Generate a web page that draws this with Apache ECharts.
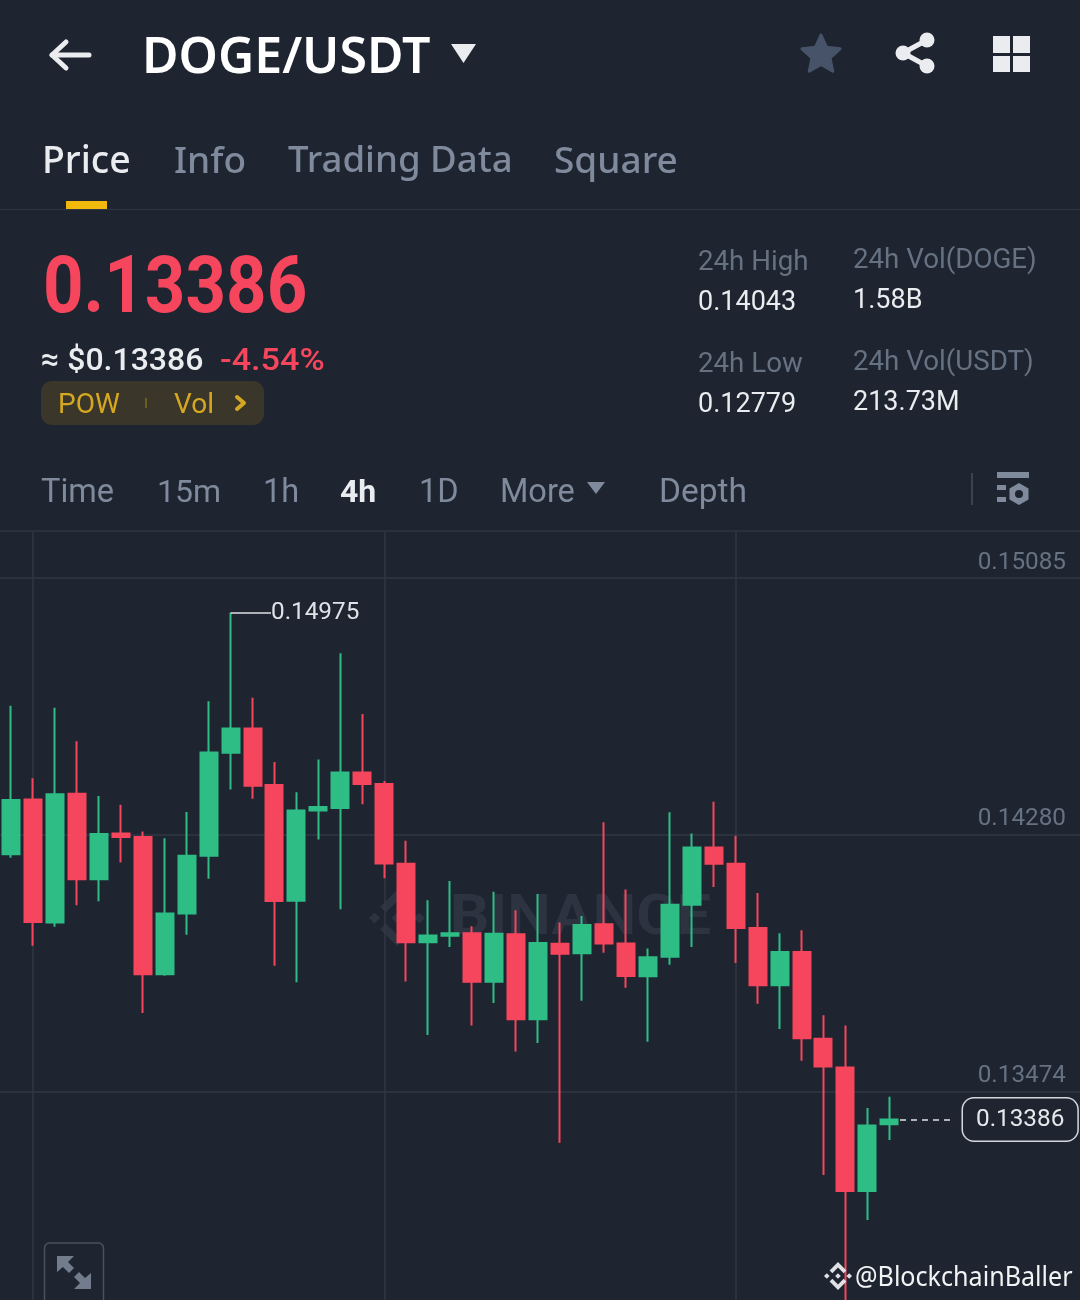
<!DOCTYPE html>
<html>
<head>
<meta charset="utf-8">
<title>DOGE/USDT</title>
<style>
html, body { margin: 0; padding: 0; background: #1e2530; }
#chart { width: 1080px; height: 1300px; }
</style>
<script src="https://cdn.jsdelivr.net/npm/echarts@6/dist/echarts.min.js"></script>
</head>
<body>
<div id="chart"></div>
<script>
// values
var opens  = [0.14218,0.14389,0.14004,0.14407,0.14139,0.14283,0.14272,0.13841,0.14032,0.14213,0.14536,0.14612,0.14435,0.14072,0.14355,0.14363,0.14474,0.14438,0.14188,0.13942,0.13962,0.13970,0.13818,0.13967,0.13700,0.13937,0.13907,0.13998,0.13938,0.13835,0.13896,0.14059,0.14239,0.14188,0.13986,0.13807,0.13911,0.13639,0.13549,0.13162,0.13371];
var closes = [0.14388,0.14005,0.14406,0.14139,0.14281,0.14272,0.13841,0.14032,0.14213,0.14537,0.14612,0.14432,0.14071,0.14355,0.14366,0.14474,0.14438,0.14189,0.13942,0.13963,0.13970,0.13818,0.13968,0.13700,0.13939,0.13906,0.13996,0.13938,0.13836,0.13895,0.14059,0.14239,0.14188,0.13986,0.13807,0.13911,0.13641,0.13552,0.13162,0.13367,0.13386];
var lows   = [0.14207,0.13931,0.13990,0.14058,0.14070,0.14192,0.13720,0.13837,0.13965,0.14141,0.14421,0.14392,0.13868,0.13816,0.14264,0.14045,0.14374,0.14142,0.13819,0.13651,0.13927,0.13681,0.13751,0.13599,0.13626,0.13313,0.13758,0.13909,0.13799,0.13630,0.13871,0.13927,0.14115,0.13877,0.13749,0.13670,0.13570,0.13212,0.12779,0.13071,0.13322];
var highs  = [0.14683,0.14456,0.14677,0.14572,0.14400,0.14373,0.14289,0.14268,0.14350,0.14697,0.14975,0.14708,0.14507,0.14412,0.14515,0.14848,0.14657,0.14447,0.14260,0.14073,0.14134,0.13992,0.14100,0.14042,0.14093,0.14004,0.14024,0.14318,0.14107,0.13922,0.14349,0.14283,0.14382,0.14276,0.14096,0.13970,0.13979,0.13713,0.13681,0.13422,0.13457];
var priceTicks = [0.15085, 0.14280, 0.13474];
var gridBars = [1, 17, 33];
var highBar = 10, highPrice = 0.14975;
var lastPrice = 0.13386;
var emptyBarsRight = 8;

var BG = '#1e2530', WHITE = '#eaecef', GREY = '#7f8a9c', DIM = '#667182', RED = '#f6465d', GREEN = '#2ebd85', LINE = '#303743';
var SANS = '"Noto Sans", sans-serif', NUM = 'Roboto, sans-serif';

var bars = [];
for (var i = 0; i < opens.length + emptyBarsRight; i++) bars.push(String(i + 1));
var candles = opens.map(function (o, i) { return [o, closes[i], lows[i], highs[i]]; });

// horizontal lines run the full width, past the plot's right edge
var gridLines = priceTicks.map(function (v) { return [{ x: 0, yAxis: v }, { x: 1080, yAxis: v }]; })
    .concat(gridBars.map(function (b) { return { xAxis: b }; }));

function txt(x, y, s, size, color, weight, font, sx) {
    return {
        type: 'text', x: x, y: y, scaleX: sx || 1, z: 100,
        style: { x: 0, y: 0, text: s, fontSize: size, fill: color, fontWeight: weight || 400, fontFamily: font || SANS, verticalAlign: 'middle', align: 'left' }
    };
}
function poly(pts, fill, z) {
    return { type: 'polygon', z: z == null ? 100 : z, shape: { points: pts }, style: { fill: fill } };
}
function rect(x, y, w, h, fill, r) {
    return { type: 'rect', z: 100, shape: { x: x, y: y, width: w, height: h, r: r || 0 }, style: { fill: fill } };
}
function pline(pts, color, width) {
    return { type: 'polyline', z: 100, shape: { points: pts }, style: { stroke: color, lineWidth: width, fill: null, lineCap: 'round', lineJoin: 'round' } };
}
// the exchange logo, s = half size
function logo(cx, cy, s, fill, z) {
    var parts = [
        [[0,-.2],[.2,0],[0,.2],[-.2,0]],
        [[-.8,-.2],[-.6,0],[-.8,.2],[-1,0]],
        [[.8,-.2],[1,0],[.8,.2],[.6,0]],
        [[0,-1],[.6,-.4],[.4,-.2],[0,-.6],[-.4,-.2],[-.6,-.4]],
        [[0,1],[.6,.4],[.4,.2],[0,.6],[-.4,.2],[-.6,.4]]
    ];
    return parts.map(function (p) {
        return poly(p.map(function (q) { return [cx + q[0] * s, cy + q[1] * s]; }), fill, z);
    });
}
function starPts(cx, cy, r, r0) {
    var pts = [];
    for (var i = 0; i < 10; i++) {
        var a = -Math.PI / 2 + i * Math.PI / 5, d = i % 2 ? r0 : r;
        pts.push([cx + d * Math.cos(a), cy + d * Math.sin(a)]);
    }
    return pts;
}
function hexPts(cx, cy, r) {
    var pts = [];
    for (var i = 0; i < 6; i++) {
        var a = -Math.PI / 2 + i * Math.PI / 3;
        pts.push([cx + r * Math.cos(a), cy + r * Math.sin(a)]);
    }
    return pts;
}

var graphics = [
    // top bar
    pline([[52, 55], [89, 55]], WHITE, 5),
    pline([[66, 42], [52, 55], [66, 68]], WHITE, 5),
    txt(142, 59, 'DOGE/USDT', 50, '#ffffff', 600),
    poly([[451, 44], [476, 44], [463.5, 63]], WHITE),
    { type: 'polygon', z: 100, shape: { points: starPts(821, 55, 20, 9.5) }, style: { fill: '#475368', stroke: '#475368', lineWidth: 3, lineJoin: 'round' } },
    pline([[903, 53], [927, 40]], WHITE, 5),
    pline([[903, 53], [927, 66]], WHITE, 5),
    { type: 'circle', z: 100, shape: { cx: 927, cy: 40, r: 7.5 }, style: { fill: WHITE } },
    { type: 'circle', z: 100, shape: { cx: 927, cy: 66, r: 7.5 }, style: { fill: WHITE } },
    { type: 'circle', z: 100, shape: { cx: 903, cy: 53, r: 7.5 }, style: { fill: WHITE } },
    rect(993, 36, 17, 17, WHITE), rect(1013, 36, 17, 17, WHITE),
    rect(993, 56, 17, 16, WHITE), rect(1013, 56, 17, 16, WHITE),

    // tabs
    txt(42, 162, 'Price', 37.5, WHITE, 500),
    txt(174, 162, 'Info', 37, GREY, 500),
    txt(288, 162, 'Trading Data', 36.6, GREY, 500),
    txt(554, 162, 'Square', 37, GREY, 500),
    rect(66, 201, 41, 8, '#f0b90b'),
    rect(0, 209, 1080, 1, LINE),

    // price block
    txt(43, 292, '0.13386', 80, RED, 700, NUM, 0.885),
    txt(41, 362, '≈ $0.13386', 32, WHITE, 500, NUM),
    txt(220, 362, '-4.54%', 32, RED, 500, NUM, 1.07),
    rect(41, 381, 223, 44, '#3a3629', 11),
    txt(58, 406, 'POW', 28, '#d6a821', 400, NUM),
    rect(145, 398, 2, 10, '#6b5c22'),
    txt(174, 406, 'Vol', 28, '#d6a821', 400, NUM),
    pline([[237, 397], [244, 403], [237, 409]], '#d6a821', 4),

    // 24h stats
    txt(698, 263, '24h High', 27.7, DIM, 400, NUM),
    txt(698, 303, '0.14043', 27, WHITE, 400, NUM),
    txt(853, 261, '24h Vol(DOGE)', 27.7, DIM, 400, NUM),
    txt(853, 301, '1.58B', 27, WHITE, 400, NUM),
    txt(698, 365, '24h Low', 27.7, DIM, 400, NUM),
    txt(698, 405, '0.12779', 27, WHITE, 400, NUM),
    txt(853, 363, '24h Vol(USDT)', 27.7, DIM, 400, NUM),
    txt(853, 403, '213.73M', 27, WHITE, 400, NUM),

    // interval row
    txt(41, 494, 'Time', 32.5, GREY, 400, NUM),
    txt(157, 494, '15m', 32, GREY, 400, NUM),
    txt(263, 494, '1h', 32.5, GREY, 400, NUM),
    txt(340, 494, '4h', 32, WHITE, 700, NUM),
    txt(419, 494, '1D', 32.5, GREY, 400, NUM),
    txt(500, 494, 'More', 32.5, GREY, 400, NUM),
    poly([[587, 482], [605, 482], [596, 494]], GREY),
    txt(659, 494, 'Depth', 33.5, GREY, 400, NUM),
    rect(971, 473, 2, 32, '#3b4350'),
    rect(997, 472, 32, 6, GREY), rect(997, 485, 9, 5, GREY), rect(997, 497, 9, 5, GREY),
    poly(hexPts(1019, 494, 11), GREY),
    { type: 'circle', z: 100, shape: { cx: 1019, cy: 494, r: 4 }, style: { fill: BG } },
    rect(0, 530, 1080, 2, '#2a313c'),

    // expand button
    { type: 'rect', z: 100, shape: { x: 44.5, y: 1243, width: 59, height: 70, r: 5 }, style: { fill: null, stroke: '#4a5260', lineWidth: 1.5 } },
    poly([[57, 1256], [74, 1256], [68, 1262], [74, 1268], [69, 1273], [63, 1267], [57, 1272]], '#727c8c'),
    poly([[91, 1289], [74, 1289], [80, 1283], [74, 1277], [79, 1272], [85, 1278], [91, 1273]], '#727c8c'),

    // chart watermark, behind the candles
    { type: 'text', z: 0, x: 450, y: 920, scaleX: 1.12, style: { x: 0, y: 0, text: 'BINANCE', fontSize: 55, fontWeight: 700, fontFamily: NUM, fill: '#2d3340', verticalAlign: 'middle' } },

    // photo credit
    txt(855, 1278, '@BlockchainBaller', 27, '#f2f3f5', 400, SANS, 0.93)
];
graphics = graphics.concat(logo(397, 918, 28, '#2d3340', 0), logo(838, 1276, 14, '#dfe1e5', 100));

var chart = echarts.init(document.getElementById('chart'));
chart.setOption({
    animation: false,
    backgroundColor: BG,
    grid: { left: -2, right: 4, top: 532, bottom: 0 },
    xAxis: {
        type: 'category', data: bars,
        axisLine: { show: false }, axisTick: { show: false }, axisLabel: { show: false }, splitLine: { show: false }
    },
    yAxis: {
        type: 'value', position: 'right', min: 0.1282, max: 0.15228,
        axisLine: { show: false }, axisTick: { show: false }, splitLine: { show: false },
        axisLabel: {
            inside: true, margin: 10, customValues: priceTicks, color: '#667182', fontSize: 24.3, fontFamily: NUM,
            verticalAlign: 'bottom', padding: [0, 0, 3, 0],
            formatter: function (v) { return v.toFixed(5); }
        }
    },
    graphic: graphics,
    series: [
        {
            type: 'line', data: [], z: 1, silent: true,
            markLine: {
                z: 1, silent: true, symbol: 'none', animation: false, precision: 5, label: { show: false },
                lineStyle: { color: LINE, width: 1.5, type: 'solid' },
                data: gridLines
            }
        },
        {
            type: 'candlestick', z: 2, barWidth: 17.5, data: candles,
            itemStyle: { color: GREEN, color0: RED, borderColor: GREEN, borderColor0: RED, borderWidth: 2 },
            markLine: {
                silent: true, symbol: 'none', animation: false, precision: 5,
                data: [
                    [{
                        xAxis: highBar, yAxis: highPrice,
                        lineStyle: { color: '#dfe2e6', width: 1.5, type: 'solid' },
                        label: { show: true, position: 'end', distance: 0, formatter: highPrice.toFixed(5), color: '#dfe2e6', fontSize: 24.3, fontFamily: NUM }
                    }, { x: 271, yAxis: highPrice }],
                    [{
                        x: 900, yAxis: lastPrice,
                        lineStyle: { color: '#dfe2e6', width: 1.5, type: [6, 5] },
                        label: {
                            show: true, position: 'end', distance: 13, formatter: lastPrice.toFixed(5), color: '#e6e8eb', fontSize: 24.3, fontFamily: NUM,
                            backgroundColor: BG, borderColor: '#d5d9df', borderWidth: 1.5, borderRadius: 11, padding: [10, 13, 8, 13]
                        }
                    }, { x: 950, yAxis: lastPrice }]
                ]
            }
        }
    ]
});
</script>
</body>
</html>
